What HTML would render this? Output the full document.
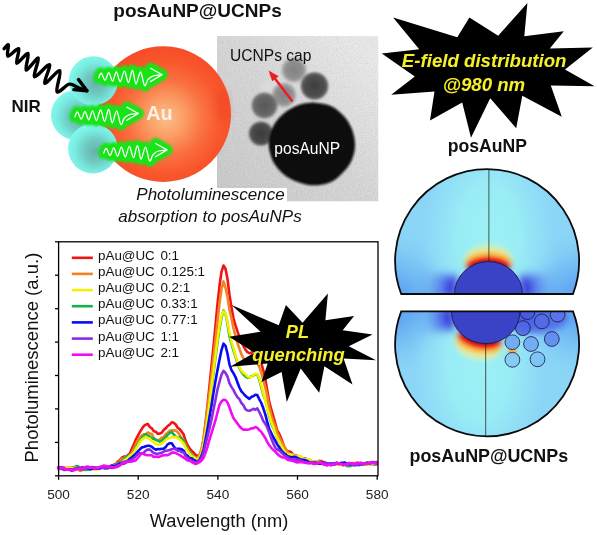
<!DOCTYPE html>
<html lang="en"><head><meta charset="utf-8"><title>posAuNP@UCNPs</title>
<style>
html,body{margin:0;padding:0;background:#fff;}
body{width:597px;height:535px;overflow:hidden;}
svg{display:block;}
svg text{font-family:"Liberation Sans", Arial, sans-serif;}
</style></head><body>
<svg width="597" height="535" viewBox="0 0 597 535">
<defs>
<filter id="noise" x="0" y="0" width="100%" height="100%">
<feTurbulence type="fractalNoise" baseFrequency="0.9" numOctaves="2" seed="3" result="n"/>
<feColorMatrix in="n" type="matrix" values="0 0 0 0 0  0 0 0 0 0  0 0 0 0 0  0.5 0.5 0 0 -0.32"/>
<feComposite in2="SourceGraphic" operator="in"/>
</filter>
<linearGradient id="temBg" x1="0" y1="1" x2="1" y2="0">
<stop offset="0" stop-color="#cecece"/><stop offset="0.5" stop-color="#dcdcdc"/><stop offset="0.9" stop-color="#eeeeee"/>
</linearGradient>
<radialGradient id="ucA" cx="0.5" cy="0.5" r="0.5"><stop offset="0" stop-color="#838383"/><stop offset="0.7" stop-color="#8e8e8e"/><stop offset="1" stop-color="#a8a8a8" stop-opacity="0.6"/></radialGradient>
<radialGradient id="ucB" cx="0.5" cy="0.5" r="0.5"><stop offset="0" stop-color="#3e3e3e"/><stop offset="0.75" stop-color="#4e4e4e"/><stop offset="1" stop-color="#707070"/></radialGradient>
<radialGradient id="ucD" cx="0.5" cy="0.5" r="0.5"><stop offset="0" stop-color="#585858"/><stop offset="0.75" stop-color="#666"/><stop offset="1" stop-color="#858585"/></radialGradient>
<radialGradient id="ucE" cx="0.5" cy="0.5" r="0.5"><stop offset="0" stop-color="#3c3c3c"/><stop offset="0.75" stop-color="#4a4a4a"/><stop offset="1" stop-color="#6c6c6c"/></radialGradient>
<filter id="b1" x="-20%" y="-20%" width="140%" height="140%"><feGaussianBlur stdDeviation="0.9"/></filter>
<filter id="b2" x="-20%" y="-20%" width="140%" height="140%"><feGaussianBlur stdDeviation="1.6"/></filter>
<clipPath id="temClip"><rect x="217" y="36" width="161.5" height="165.5"/></clipPath>

<radialGradient id="gAu" cx="166" cy="118" r="70" gradientUnits="userSpaceOnUse">
<stop offset="0" stop-color="#fcbe88"/><stop offset="0.25" stop-color="#fba068"/><stop offset="0.55" stop-color="#fa7040"/><stop offset="0.8" stop-color="#f9572c"/><stop offset="1" stop-color="#f64e2a"/>
</radialGradient>
<radialGradient id="gCy" cx="0.55" cy="0.55" r="0.55">
<stop offset="0" stop-color="#68b0a9"/><stop offset="0.4" stop-color="#6fcac1"/><stop offset="0.75" stop-color="#79ebe0"/><stop offset="1" stop-color="#80f8ec"/>
</radialGradient>
<filter id="b3" x="-80%" y="-40%" width="260%" height="180%"><feGaussianBlur stdDeviation="3.5"/></filter>
<filter id="glow" x="-20%" y="-60%" width="140%" height="220%"><feGaussianBlur stdDeviation="1.3"/></filter>

<filter id="fb" x="-30%" y="-30%" width="160%" height="160%"><feGaussianBlur stdDeviation="3"/></filter>
<filter id="fb1" x="-30%" y="-30%" width="160%" height="160%"><feGaussianBlur stdDeviation="1.2"/></filter>
<radialGradient id="lobe" cx="0.5" cy="0.5" r="0.5">
<stop offset="0" stop-color="#9cf1f4"/><stop offset="0.45" stop-color="#9aeef5" stop-opacity="0.92"/><stop offset="0.78" stop-color="#94e4f6" stop-opacity="0.45"/><stop offset="1" stop-color="#8ad4f6" stop-opacity="0"/>
</radialGradient>
<radialGradient id="side" cx="0.5" cy="0.5" r="0.5">
<stop offset="0" stop-color="#589cf0"/><stop offset="0.3" stop-color="#5fa6f2" stop-opacity="0.9"/><stop offset="0.65" stop-color="#70baf4" stop-opacity="0.5"/><stop offset="1" stop-color="#8ad4f6" stop-opacity="0"/>
</radialGradient>
<radialGradient id="dark" cx="0" cy="0" r="72" gradientUnits="userSpaceOnUse">
<stop offset="0.42" stop-color="#3836d4"/><stop offset="0.52" stop-color="#3b40dc" stop-opacity="0.98"/><stop offset="0.64" stop-color="#4562ea" stop-opacity="0.72"/><stop offset="0.8" stop-color="#5488ee" stop-opacity="0.32"/><stop offset="1" stop-color="#62a4f2" stop-opacity="0"/>
</radialGradient>
<radialGradient id="hot" cx="0" cy="0" r="60" gradientUnits="userSpaceOnUse">
<stop offset="0.5" stop-color="#9a0a0a"/><stop offset="0.55" stop-color="#c01418"/><stop offset="0.585" stop-color="#ea3620"/><stop offset="0.62" stop-color="#f67a2c"/><stop offset="0.665" stop-color="#f8b84a" stop-opacity="0.97"/><stop offset="0.73" stop-color="#f6e080" stop-opacity="0.88"/><stop offset="0.82" stop-color="#e0f4b0" stop-opacity="0.5"/><stop offset="0.92" stop-color="#c0f4dc" stop-opacity="0.18"/><stop offset="1" stop-color="#b0f2e8" stop-opacity="0"/>
</radialGradient>
<filter id="mb" x="-50%" y="-50%" width="200%" height="200%"><feGaussianBlur stdDeviation="4"/></filter>
<filter id="mb2" x="-50%" y="-50%" width="200%" height="200%"><feGaussianBlur stdDeviation="3"/></filter>
<mask id="poleM" maskUnits="userSpaceOnUse" x="-70" y="-70" width="140" height="140"><ellipse cx="0" cy="-34" rx="22" ry="18" fill="#fff" filter="url(#mb2)"/></mask>
<mask id="eqM" maskUnits="userSpaceOnUse" x="-90" y="-70" width="180" height="140"><polygon points="-30,-2 -30,-18 -80,-26 -80,4 -30,4" fill="#fff" filter="url(#mb)"/><polygon points="30,-2 30,-18 80,-26 80,4 30,4" fill="#fff" filter="url(#mb)"/></mask>

<clipPath id="dc1"><path d="M573.0 294.0A92.0 92.0 0 1 0 401.2 294.0Z"/></clipPath>
<clipPath id="dc2"><path d="M573.0 311.4A92.0 92.0 0 1 1 401.2 311.4Z"/></clipPath>
</defs>
<g clip-path="url(#temClip)">
<rect x="217" y="36" width="161.5" height="165.5" fill="url(#temBg)"/>
<rect x="217" y="36" width="161.5" height="165.5" fill="#8a8a8a" filter="url(#noise)" opacity="0.2"/>
<ellipse cx="272" cy="88" rx="12" ry="9" fill="#dcdcdc" opacity="0.8" filter="url(#b2)"/>
<ellipse cx="338" cy="100" rx="8" ry="6" fill="#dedede" opacity="0.4" filter="url(#b2)"/>
<g filter="url(#b1)">
<circle cx="284" cy="95" r="12.5" fill="url(#ucA)"/>
<circle cx="294" cy="70" r="12.8" fill="url(#ucA)"/>
<circle cx="314.5" cy="86" r="13.8" fill="url(#ucB)"/>
<circle cx="264.5" cy="105.5" r="13" fill="url(#ucD)"/>
<circle cx="261" cy="133.6" r="12.2" fill="url(#ucE)"/>
<path d="M312.7 102.5C314.6 102.8 320.5 103.2 324.0 104.0C327.5 104.8 330.2 105.2 333.8 107.6C337.4 109.9 342.4 114.2 345.5 118.1C348.6 122.0 351.0 126.3 352.6 131.0C354.2 135.7 355.2 141.4 355.0 146.3C354.8 151.2 353.5 156.1 351.6 160.4C349.7 164.7 346.6 168.6 343.4 172.1C340.2 175.6 336.9 179.1 332.6 181.3C328.3 183.5 322.3 184.8 317.4 185.2C312.5 185.6 308.4 185.2 303.3 183.8C298.2 182.4 291.6 179.9 286.9 176.8C282.2 173.7 278.1 169.3 275.2 165.0C272.3 160.7 270.5 155.7 269.5 151.0C268.5 146.3 268.4 141.6 269.3 136.9C270.2 132.2 272.3 127.1 275.2 122.8C278.1 118.5 282.8 114.1 286.9 111.1C291.0 108.0 295.5 105.9 299.8 104.5C304.1 103.1 310.6 102.8 312.7 102.5Z" fill="#0b0b0b"/>
</g>
<line x1="292.5" y1="101.5" x2="273" y2="76" stroke="#ee1c25" stroke-width="2.5"/>
<polygon points="268.6,70.6 278.6,76.2 272.2,81.2" fill="#ee1c25"/>
</g>
<text x="230" y="60.5" font-size="15.6" fill="#111">UCNPs cap</text>
<text x="274.3" y="153.8" font-size="15.6" fill="#fff">posAuNP</text>
<text x="197.5" y="17.3" font-size="19" font-weight="bold" text-anchor="middle" fill="#111">posAuNP@UCNPs</text>
<circle cx="163.2" cy="114.1" r="67.8" fill="url(#gAu)"/>
<ellipse cx="222" cy="106" rx="7" ry="16" fill="#e53c22" opacity="0.35" filter="url(#b3)"/>
<circle cx="75.8" cy="115" r="24.8" fill="url(#gCy)"/>
<circle cx="93.4" cy="80.8" r="24.6" fill="url(#gCy)"/>
<circle cx="92.9" cy="148.6" r="24.8" fill="url(#gCy)"/>
<g fill="none" stroke-linecap="round" stroke-linejoin="round">
<path d="M98.7 78.0C99.1 77.2 100.2 72.8 101.3 73.2C102.4 73.6 103.8 80.4 105.1 80.3C106.3 80.2 107.5 72.6 108.8 72.7C110.0 72.8 111.3 81.1 112.6 81.0C113.9 80.9 115.1 71.9 116.4 72.0C117.7 72.1 118.9 81.9 120.2 81.8C121.5 81.7 123.0 71.1 124.4 71.2C125.8 71.3 127.1 82.6 128.4 82.5C129.8 82.4 131.2 70.2 132.5 70.5C133.8 70.8 134.7 83.8 136.0 84.0C137.3 84.2 139.1 71.7 140.5 72.0C141.9 72.3 143.3 84.4 144.6 85.6C145.8 86.9 146.6 81.1 148.0 79.5C149.4 77.9 151.0 76.6 153.3 75.8C155.7 75.0 160.6 74.9 162.1 74.7 M150.6 68.3L162.1 74.7L150.4 81.6" stroke="#14e414" stroke-width="11.2" filter="url(#glow)"/>
<path d="M98.7 78.0C99.1 77.2 100.2 72.8 101.3 73.2C102.4 73.6 103.8 80.4 105.1 80.3C106.3 80.2 107.5 72.6 108.8 72.7C110.0 72.8 111.3 81.1 112.6 81.0C113.9 80.9 115.1 71.9 116.4 72.0C117.7 72.1 118.9 81.9 120.2 81.8C121.5 81.7 123.0 71.1 124.4 71.2C125.8 71.3 127.1 82.6 128.4 82.5C129.8 82.4 131.2 70.2 132.5 70.5C133.8 70.8 134.7 83.8 136.0 84.0C137.3 84.2 139.1 71.7 140.5 72.0C141.9 72.3 143.3 84.4 144.6 85.6C145.8 86.9 146.6 81.1 148.0 79.5C149.4 77.9 151.0 76.6 153.3 75.8C155.7 75.0 160.6 74.9 162.1 74.7 M150.6 68.3L162.1 74.7L150.4 81.6" stroke="#fff" stroke-width="1.3"/>
</g>
<g fill="none" stroke-linecap="round" stroke-linejoin="round">
<path d="M74.9 116.8C75.3 116.0 76.4 111.6 77.5 112.0C78.6 112.4 80.0 119.2 81.3 119.1C82.5 119.0 83.8 111.4 85.0 111.5C86.2 111.6 87.5 119.9 88.8 119.8C90.1 119.7 91.3 110.7 92.6 110.8C93.9 110.9 95.1 120.7 96.4 120.6C97.7 120.5 99.2 109.9 100.6 110.0C102.0 110.1 103.3 121.4 104.6 121.3C106.0 121.2 107.4 109.0 108.7 109.3C110.0 109.5 110.9 122.5 112.2 122.8C113.5 123.0 115.3 110.5 116.7 110.8C118.1 111.1 119.5 123.2 120.8 124.4C122.0 125.7 122.8 119.9 124.2 118.3C125.7 116.7 127.2 115.4 129.5 114.6C131.8 113.8 136.8 113.7 138.3 113.5 M126.8 107.1L138.3 113.5L126.6 120.4" stroke="#14e414" stroke-width="11.2" filter="url(#glow)"/>
<path d="M74.9 116.8C75.3 116.0 76.4 111.6 77.5 112.0C78.6 112.4 80.0 119.2 81.3 119.1C82.5 119.0 83.8 111.4 85.0 111.5C86.2 111.6 87.5 119.9 88.8 119.8C90.1 119.7 91.3 110.7 92.6 110.8C93.9 110.9 95.1 120.7 96.4 120.6C97.7 120.5 99.2 109.9 100.6 110.0C102.0 110.1 103.3 121.4 104.6 121.3C106.0 121.2 107.4 109.0 108.7 109.3C110.0 109.5 110.9 122.5 112.2 122.8C113.5 123.0 115.3 110.5 116.7 110.8C118.1 111.1 119.5 123.2 120.8 124.4C122.0 125.7 122.8 119.9 124.2 118.3C125.7 116.7 127.2 115.4 129.5 114.6C131.8 113.8 136.8 113.7 138.3 113.5 M126.8 107.1L138.3 113.5L126.6 120.4" stroke="#fff" stroke-width="1.3"/>
</g>
<g fill="none" stroke-linecap="round" stroke-linejoin="round">
<path d="M103.7 153.2C104.1 152.4 105.2 148.0 106.3 148.4C107.4 148.8 108.8 155.6 110.1 155.5C111.3 155.4 112.5 147.8 113.8 147.9C115.0 148.0 116.3 156.3 117.6 156.2C118.9 156.1 120.1 147.1 121.4 147.2C122.7 147.3 123.9 157.1 125.2 157.0C126.5 156.9 128.0 146.3 129.4 146.4C130.8 146.5 132.1 157.8 133.4 157.7C134.8 157.6 136.2 145.4 137.5 145.7C138.8 145.9 139.7 158.9 141.0 159.2C142.3 159.4 144.1 146.9 145.5 147.2C146.9 147.5 148.3 159.6 149.6 160.8C150.8 162.1 151.6 156.3 153.0 154.7C154.4 153.1 156.0 151.8 158.3 151.0C160.7 150.2 165.6 150.1 167.1 149.9 M155.6 143.5L167.1 149.9L155.4 156.8" stroke="#14e414" stroke-width="11.2" filter="url(#glow)"/>
<path d="M103.7 153.2C104.1 152.4 105.2 148.0 106.3 148.4C107.4 148.8 108.8 155.6 110.1 155.5C111.3 155.4 112.5 147.8 113.8 147.9C115.0 148.0 116.3 156.3 117.6 156.2C118.9 156.1 120.1 147.1 121.4 147.2C122.7 147.3 123.9 157.1 125.2 157.0C126.5 156.9 128.0 146.3 129.4 146.4C130.8 146.5 132.1 157.8 133.4 157.7C134.8 157.6 136.2 145.4 137.5 145.7C138.8 145.9 139.7 158.9 141.0 159.2C142.3 159.4 144.1 146.9 145.5 147.2C146.9 147.5 148.3 159.6 149.6 160.8C150.8 162.1 151.6 156.3 153.0 154.7C154.4 153.1 156.0 151.8 158.3 151.0C160.7 150.2 165.6 150.1 167.1 149.9 M155.6 143.5L167.1 149.9L155.4 156.8" stroke="#fff" stroke-width="1.3"/>
</g>
<g fill="none" stroke="#000" stroke-width="3.4" stroke-linecap="round" stroke-linejoin="round">
<path d="M4.1 48.7C4.8 48.1 7.8 43.8 8.4 45.0C9.0 46.2 6.2 55.6 7.9 56.2C9.6 56.8 17.2 47.5 18.7 48.7C20.2 49.9 15.2 62.5 16.8 63.3C18.4 64.1 26.4 52.2 28.0 53.4C29.6 54.5 24.5 69.4 26.2 70.2C27.9 71.0 36.9 56.9 38.3 58.0C39.7 59.1 32.7 75.6 34.6 76.7C36.5 77.8 47.8 63.5 49.5 64.6C51.2 65.7 43.2 82.3 44.9 83.3C46.6 84.3 57.8 69.3 59.8 70.7C61.8 72.1 55.4 89.5 57.0 91.7C58.6 94.0 65.7 84.9 69.2 84.2C72.7 83.5 75.0 86.4 78.0 87.5C81.0 88.6 85.4 90.2 86.9 90.7"/>
<path d="M78.5 79.5L86.9 90.7L73.8 89.6"/>
</g>
<text x="11.5" y="112.3" font-size="17" font-weight="bold" fill="#111">NIR</text>
<text x="146.3" y="120.3" font-size="19.8" font-weight="bold" fill="#fdf0e6">Au</text>
<rect x="130" y="188" width="157" height="16" fill="#fff"/>
<text x="210.5" y="200" font-size="17" font-style="italic" text-anchor="middle" fill="#111">Photoluminescence</text>
<text x="210" y="221.5" font-size="17" font-style="italic" text-anchor="middle" fill="#111">absorption to posAuNPs</text>
<g fill="none" stroke-width="2.6" stroke-linejoin="round" stroke-linecap="round">
<path d="M58.2 468.7L60.2 468.9L62.2 468.2L64.2 467.7L66.2 468.1L68.2 469.1L70.1 468.6L72.1 467.8L74.1 467.6L76.1 468.3L78.1 469.5L80.1 469.5L82.1 469.3L84.1 468.5L86.1 469.1L88.1 469.0L90.1 468.8L92.1 467.2L94.0 467.3L96.0 467.6L98.0 467.9L100.0 467.8L102.0 467.7L104.0 468.1L106.0 468.4L108.0 468.2L110.0 466.8L112.0 466.1L114.0 464.5L115.9 464.1L117.9 461.5L119.9 460.0L121.9 457.7L123.9 456.6L125.9 456.5L127.9 455.1L129.9 453.5L131.9 448.6L133.9 444.4L135.9 439.3L137.9 435.6L139.8 432.2L141.8 428.8L143.8 426.0L145.8 424.7L147.8 423.9L149.8 427.0L151.8 428.3L153.8 431.3L155.8 431.7L157.8 433.8L159.8 433.6L161.7 432.8L163.7 429.9L165.7 428.4L167.7 426.0L169.7 424.7L171.7 422.2L173.7 422.7L175.7 424.5L177.7 427.7L179.7 429.1L181.7 431.7L183.7 434.6L185.6 440.9L187.6 445.1L189.6 448.4L191.6 450.8L193.6 452.6L195.6 454.9L197.6 456.0L199.6 455.3L201.6 449.8L203.6 439.3L205.6 422.7L207.5 405.0L209.5 386.0L211.5 366.1L213.5 346.4L215.5 325.3L217.5 303.9L219.5 285.8L221.5 271.8L223.5 265.5L225.5 268.7L227.5 279.0L229.4 294.4L231.4 306.8L233.4 318.1L235.4 325.2L237.4 331.1L239.4 337.1L241.4 342.2L243.4 345.9L245.4 349.5L247.4 352.1L249.4 353.1L251.4 352.9L253.3 350.4L255.3 349.6L257.3 350.1L259.3 356.5L261.3 363.2L263.3 370.3L265.3 379.2L267.3 390.6L269.3 402.2L271.3 409.4L273.3 416.3L275.2 423.0L277.2 430.5L279.2 433.7L281.2 438.4L283.2 444.0L285.2 449.4L287.2 451.0L289.2 451.4L291.2 452.2L293.2 454.7L295.2 455.8L297.2 456.2L299.1 456.5L301.1 457.1L303.1 458.9L305.1 458.6L307.1 459.2L309.1 459.3L311.1 460.9L313.1 462.0L315.1 462.3L317.1 461.3L319.1 461.1L321.0 461.0L323.0 461.9L325.0 462.8L327.0 463.1L329.0 463.9L331.0 463.9L333.0 464.0L335.0 463.8L337.0 464.0L339.0 464.6L341.0 464.3L343.0 464.0L344.9 463.1L346.9 464.0L348.9 464.7L350.9 465.2L352.9 464.2L354.9 463.0L356.9 463.1L358.9 463.4L360.9 464.8L362.9 464.8L364.9 464.3L366.8 462.3L368.8 462.7L370.8 463.1L372.8 463.4L374.8 462.8L376.8 462.0" stroke="#f01414"/>
<path d="M58.2 468.2L60.2 468.0L62.2 468.6L64.2 468.0L66.2 468.4L68.2 467.4L70.1 467.9L72.1 467.7L74.1 468.0L76.1 468.6L78.1 469.1L80.1 471.0L82.1 470.2L84.1 469.7L86.1 468.3L88.1 468.8L90.1 468.9L92.1 469.0L94.0 468.5L96.0 468.0L98.0 467.8L100.0 467.3L102.0 467.1L104.0 467.3L106.0 467.7L108.0 468.1L110.0 467.0L112.0 465.4L114.0 464.9L115.9 464.4L117.9 463.2L119.9 461.2L121.9 458.9L123.9 458.1L125.9 456.8L127.9 456.3L129.9 454.8L131.9 452.8L133.9 448.6L135.9 444.2L137.9 440.3L139.8 437.7L141.8 435.5L143.8 434.4L145.8 434.4L147.8 432.5L149.8 433.4L151.8 433.9L153.8 438.4L155.8 440.0L157.8 440.2L159.8 439.5L161.7 437.6L163.7 437.3L165.7 434.1L167.7 432.7L169.7 430.8L171.7 430.4L173.7 430.4L175.7 430.6L177.7 432.3L179.7 435.0L181.7 438.2L183.7 440.3L185.6 444.6L187.6 448.5L189.6 451.8L191.6 454.0L193.6 456.3L195.6 457.9L197.6 457.8L199.6 454.4L201.6 448.6L203.6 438.4L205.6 423.8L207.5 407.6L209.5 392.9L211.5 375.6L213.5 357.5L215.5 339.2L217.5 321.1L219.5 303.4L221.5 289.0L223.5 281.4L225.5 287.7L227.5 296.6L229.4 309.8L231.4 317.8L233.4 328.0L235.4 335.4L237.4 343.0L239.4 348.7L241.4 354.2L243.4 358.2L245.4 361.0L247.4 363.3L249.4 363.1L251.4 361.1L253.3 360.0L255.3 361.3L257.3 362.5L259.3 367.1L261.3 372.5L263.3 379.8L265.3 387.4L267.3 396.3L269.3 407.0L271.3 415.1L273.3 421.4L275.2 426.1L277.2 432.5L279.2 437.0L281.2 441.3L283.2 444.5L285.2 447.8L287.2 451.2L289.2 453.7L291.2 454.9L293.2 454.9L295.2 455.3L297.2 455.6L299.1 457.5L301.1 457.7L303.1 458.3L305.1 458.7L307.1 459.7L309.1 461.1L311.1 461.1L313.1 461.8L315.1 461.4L317.1 461.2L319.1 461.1L321.0 462.5L323.0 463.7L325.0 464.7L327.0 464.3L329.0 464.5L331.0 464.8L333.0 464.4L335.0 464.1L337.0 464.1L339.0 464.1L341.0 463.7L343.0 463.1L344.9 463.1L346.9 463.9L348.9 463.6L350.9 463.4L352.9 462.9L354.9 463.9L356.9 464.3L358.9 464.5L360.9 463.7L362.9 463.8L364.9 464.1L366.8 464.7L368.8 463.8L370.8 463.9L372.8 463.3L374.8 463.8L376.8 464.2" stroke="#f58220"/>
<path d="M58.2 468.5L60.2 468.4L62.2 468.0L64.2 468.3L66.2 468.7L68.2 468.8L70.1 468.9L72.1 468.7L74.1 467.4L76.1 466.0L78.1 466.3L80.1 467.7L82.1 469.1L84.1 469.8L86.1 470.0L88.1 469.6L90.1 469.4L92.1 467.9L94.0 468.2L96.0 467.8L98.0 468.4L100.0 467.8L102.0 467.1L104.0 467.1L106.0 467.7L108.0 467.9L110.0 467.8L112.0 466.5L114.0 466.2L115.9 464.6L117.9 463.9L119.9 462.1L121.9 461.2L123.9 459.2L125.9 457.5L127.9 455.8L129.9 455.1L131.9 454.6L133.9 451.6L135.9 447.7L137.9 444.0L139.8 441.5L141.8 437.9L143.8 435.9L145.8 434.1L147.8 435.5L149.8 436.7L151.8 439.1L153.8 438.5L155.8 439.6L157.8 440.6L159.8 441.7L161.7 440.9L163.7 438.8L165.7 437.3L167.7 434.7L169.7 433.0L171.7 431.9L173.7 434.5L175.7 436.4L177.7 438.0L179.7 437.4L181.7 438.9L183.7 441.2L185.6 445.6L187.6 449.7L189.6 452.4L191.6 455.5L193.6 456.2L195.6 458.8L197.6 458.7L199.6 458.1L201.6 452.8L203.6 444.1L205.6 431.9L207.5 418.2L209.5 404.8L211.5 388.1L213.5 373.0L215.5 357.1L217.5 342.6L219.5 328.9L221.5 317.7L223.5 310.6L225.5 313.7L227.5 323.6L229.4 336.1L231.4 343.7L233.4 350.1L235.4 356.3L237.4 362.9L239.4 368.0L241.4 371.8L243.4 374.5L245.4 376.4L247.4 377.8L249.4 377.5L251.4 376.3L253.3 375.8L255.3 374.4L257.3 374.5L259.3 379.4L261.3 387.4L263.3 394.7L265.3 399.8L267.3 407.9L269.3 416.5L271.3 423.4L273.3 427.9L275.2 431.8L277.2 437.8L279.2 441.8L281.2 445.4L283.2 448.9L285.2 452.0L287.2 454.6L289.2 454.5L291.2 455.0L293.2 455.6L295.2 456.3L297.2 457.2L299.1 458.1L301.1 459.9L303.1 459.8L305.1 459.5L307.1 460.0L309.1 461.2L311.1 462.6L313.1 463.1L315.1 463.0L317.1 462.6L319.1 461.5L321.0 462.2L323.0 463.6L325.0 464.4L327.0 464.1L329.0 463.5L331.0 464.0L333.0 463.7L335.0 463.2L337.0 462.6L339.0 464.0L341.0 464.1L343.0 464.9L344.9 464.8L346.9 466.0L348.9 466.2L350.9 466.0L352.9 464.6L354.9 463.8L356.9 462.8L358.9 463.1L360.9 464.4L362.9 463.9L364.9 464.2L366.8 462.5L368.8 463.8L370.8 464.1L372.8 464.3L374.8 464.6L376.8 464.0" stroke="#14b04c"/>
<path d="M58.2 469.0L60.2 468.8L62.2 468.7L64.2 468.8L66.2 467.8L68.2 467.7L70.1 468.0L72.1 468.6L74.1 467.9L76.1 467.8L78.1 468.1L80.1 468.8L82.1 468.8L84.1 468.3L86.1 467.9L88.1 467.9L90.1 467.9L92.1 468.3L94.0 469.4L96.0 469.8L98.0 469.7L100.0 467.6L102.0 467.2L104.0 467.4L106.0 467.7L108.0 467.4L110.0 465.8L112.0 466.0L114.0 465.2L115.9 465.7L117.9 465.0L119.9 463.7L121.9 462.5L123.9 460.6L125.9 459.4L127.9 457.6L129.9 455.7L131.9 454.7L133.9 452.4L135.9 448.8L137.9 445.6L139.8 442.0L141.8 439.6L143.8 438.2L145.8 436.9L147.8 438.3L149.8 438.6L151.8 441.2L153.8 442.2L155.8 443.9L157.8 444.4L159.8 444.8L161.7 443.3L163.7 442.2L165.7 439.7L167.7 438.7L169.7 437.9L171.7 437.3L173.7 437.2L175.7 437.1L177.7 438.1L179.7 439.5L181.7 441.4L183.7 443.6L185.6 447.5L187.6 450.9L189.6 453.9L191.6 456.2L193.6 456.9L195.6 459.2L197.6 458.9L199.6 457.8L201.6 451.8L203.6 443.5L205.6 431.6L207.5 417.9L209.5 403.4L211.5 386.1L213.5 370.6L215.5 354.3L217.5 339.5L219.5 325.9L221.5 316.1L223.5 311.4L225.5 313.2L227.5 321.8L229.4 331.8L231.4 341.5L233.4 347.8L235.4 355.0L237.4 361.0L239.4 366.8L241.4 370.7L243.4 372.9L245.4 374.0L247.4 376.5L249.4 377.2L251.4 377.1L253.3 375.1L255.3 373.8L257.3 374.3L259.3 378.0L261.3 385.6L263.3 392.9L265.3 400.5L267.3 408.7L269.3 415.2L271.3 422.1L273.3 427.0L275.2 432.9L277.2 437.8L279.2 441.6L281.2 445.5L283.2 449.0L285.2 452.1L287.2 454.1L289.2 454.5L291.2 454.4L293.2 455.3L295.2 456.5L297.2 456.7L299.1 456.0L301.1 456.9L303.1 458.8L305.1 459.8L307.1 459.2L309.1 459.3L311.1 460.1L313.1 461.4L315.1 461.4L317.1 461.6L319.1 462.2L321.0 463.0L323.0 463.8L325.0 463.6L327.0 463.8L329.0 463.8L331.0 464.4L333.0 463.6L335.0 464.0L337.0 464.1L339.0 465.1L341.0 464.9L343.0 464.7L344.9 463.9L346.9 464.3L348.9 464.4L350.9 465.1L352.9 464.5L354.9 463.6L356.9 463.0L358.9 463.1L360.9 463.2L362.9 463.5L364.9 463.9L366.8 464.4L368.8 464.5L370.8 464.3L372.8 463.6L374.8 462.9L376.8 462.5" stroke="#f4f000"/>
<path d="M58.2 467.5L60.2 467.5L62.2 467.5L64.2 469.4L66.2 469.3L68.2 469.6L70.1 469.7L72.1 470.8L74.1 469.1L76.1 468.6L78.1 467.8L80.1 469.2L82.1 468.7L84.1 468.3L86.1 467.7L88.1 468.4L90.1 469.0L92.1 469.0L94.0 468.5L96.0 468.4L98.0 468.7L100.0 468.5L102.0 467.8L104.0 467.2L106.0 466.9L108.0 466.8L110.0 466.3L112.0 465.6L114.0 465.8L115.9 465.4L117.9 464.6L119.9 463.2L121.9 463.4L123.9 463.6L125.9 462.6L127.9 460.6L129.9 458.8L131.9 457.3L133.9 455.5L135.9 453.6L137.9 451.4L139.8 449.4L141.8 447.5L143.8 446.9L145.8 446.2L147.8 445.8L149.8 445.8L151.8 446.8L153.8 448.5L155.8 449.7L157.8 449.0L159.8 449.3L161.7 448.7L163.7 448.8L165.7 447.0L167.7 444.3L169.7 443.2L171.7 443.3L173.7 446.3L175.7 449.1L177.7 448.9L179.7 448.7L181.7 449.3L183.7 450.7L185.6 454.4L187.6 455.8L189.6 458.2L191.6 458.2L193.6 459.9L195.6 460.8L197.6 461.8L199.6 459.7L201.6 455.7L203.6 449.3L205.6 439.3L207.5 428.9L209.5 416.9L211.5 405.5L213.5 392.6L215.5 380.9L217.5 370.0L219.5 359.7L221.5 350.1L223.5 343.7L225.5 345.8L227.5 353.8L229.4 364.1L231.4 370.0L233.4 373.1L235.4 376.8L237.4 382.3L239.4 387.5L241.4 391.3L243.4 393.5L245.4 395.8L247.4 397.4L249.4 398.9L251.4 396.8L253.3 396.2L255.3 394.7L257.3 395.1L259.3 399.3L261.3 403.0L263.3 408.3L265.3 414.4L267.3 422.1L269.3 429.0L271.3 433.0L273.3 437.2L275.2 440.7L277.2 444.4L279.2 447.2L281.2 450.4L283.2 452.7L285.2 454.0L287.2 456.0L289.2 456.7L291.2 457.4L293.2 456.9L295.2 457.1L297.2 457.7L299.1 459.0L301.1 459.8L303.1 459.7L305.1 460.2L307.1 460.9L309.1 462.4L311.1 462.4L313.1 462.3L315.1 462.3L317.1 463.4L319.1 463.8L321.0 463.8L323.0 462.9L325.0 462.9L327.0 463.5L329.0 464.4L331.0 465.1L333.0 464.0L335.0 464.1L337.0 463.2L339.0 464.2L341.0 462.8L343.0 463.1L344.9 462.5L346.9 464.0L348.9 464.1L350.9 465.0L352.9 464.2L354.9 465.0L356.9 464.2L358.9 465.2L360.9 464.1L362.9 463.8L364.9 463.3L366.8 463.3L368.8 463.7L370.8 462.7L372.8 462.6L374.8 462.7L376.8 462.9" stroke="#0a0af5"/>
<path d="M58.2 467.4L60.2 468.5L62.2 469.0L64.2 470.0L66.2 469.8L68.2 469.7L70.1 469.3L72.1 469.4L74.1 469.0L76.1 469.2L78.1 468.4L80.1 467.9L82.1 467.1L84.1 467.8L86.1 468.3L88.1 468.4L90.1 467.6L92.1 467.1L94.0 467.7L96.0 468.1L98.0 468.2L100.0 467.4L102.0 467.4L104.0 468.1L106.0 468.1L108.0 467.8L110.0 467.7L112.0 468.1L114.0 467.4L115.9 466.7L117.9 465.1L119.9 465.0L121.9 462.6L123.9 461.9L125.9 461.3L127.9 461.5L129.9 460.8L131.9 459.4L133.9 458.0L135.9 456.1L137.9 454.0L139.8 453.3L141.8 453.1L143.8 452.7L145.8 450.6L147.8 449.5L149.8 449.6L151.8 451.2L153.8 453.1L155.8 453.6L157.8 453.9L159.8 453.1L161.7 452.9L163.7 451.5L165.7 450.8L167.7 450.5L169.7 450.0L171.7 449.2L173.7 448.7L175.7 448.9L177.7 450.7L179.7 450.7L181.7 452.2L183.7 452.3L185.6 456.1L187.6 457.8L189.6 459.3L191.6 460.6L193.6 461.7L195.6 462.6L197.6 461.7L199.6 460.8L201.6 457.6L203.6 452.3L205.6 444.1L207.5 436.5L209.5 428.4L211.5 419.8L213.5 409.5L215.5 399.8L217.5 389.4L219.5 381.8L221.5 374.6L223.5 370.8L225.5 372.8L227.5 376.7L229.4 383.0L231.4 386.9L233.4 389.9L235.4 393.9L237.4 397.1L239.4 399.1L241.4 403.0L243.4 405.1L245.4 409.1L247.4 410.5L249.4 410.8L251.4 410.0L253.3 408.8L255.3 409.7L257.3 408.3L259.3 412.0L261.3 416.2L263.3 420.9L265.3 423.8L267.3 427.5L269.3 432.7L271.3 438.6L273.3 443.4L275.2 447.6L277.2 449.5L279.2 450.6L281.2 452.3L283.2 454.3L285.2 456.0L287.2 457.0L289.2 458.4L291.2 459.2L293.2 459.8L295.2 459.5L297.2 459.7L299.1 459.8L301.1 460.9L303.1 461.6L305.1 462.8L307.1 462.5L309.1 463.1L311.1 462.1L313.1 462.3L315.1 462.0L317.1 462.6L319.1 462.9L321.0 462.6L323.0 463.0L325.0 462.9L327.0 463.4L329.0 463.4L331.0 463.3L333.0 463.2L335.0 463.4L337.0 463.2L339.0 463.5L341.0 464.0L343.0 464.4L344.9 464.6L346.9 464.3L348.9 464.0L350.9 464.3L352.9 465.1L354.9 465.0L356.9 465.3L358.9 463.9L360.9 464.9L362.9 463.1L364.9 463.9L366.8 463.3L368.8 463.5L370.8 462.6L372.8 462.0L374.8 462.2L376.8 462.7" stroke="#8a2be8"/>
<path d="M58.2 468.1L60.2 467.9L62.2 467.8L64.2 468.2L66.2 469.4L68.2 469.0L70.1 470.2L72.1 470.4L74.1 470.3L76.1 469.1L78.1 468.5L80.1 468.8L82.1 469.2L84.1 467.6L86.1 466.8L88.1 466.6L90.1 467.8L92.1 467.7L94.0 468.4L96.0 467.8L98.0 468.1L100.0 466.7L102.0 466.2L104.0 465.6L106.0 466.0L108.0 466.5L110.0 466.5L112.0 466.9L114.0 467.3L115.9 467.3L117.9 466.6L119.9 465.3L121.9 464.2L123.9 462.9L125.9 462.4L127.9 461.8L129.9 461.7L131.9 461.4L133.9 460.9L135.9 460.2L137.9 458.0L139.8 455.5L141.8 453.3L143.8 454.0L145.8 455.0L147.8 455.3L149.8 455.3L151.8 455.3L153.8 457.0L155.8 456.6L157.8 456.9L159.8 456.6L161.7 455.8L163.7 455.2L165.7 455.0L167.7 455.1L169.7 454.1L171.7 452.6L173.7 452.5L175.7 453.1L177.7 454.0L179.7 455.2L181.7 456.4L183.7 457.7L185.6 459.0L187.6 460.4L189.6 460.6L191.6 461.8L193.6 463.1L195.6 464.0L197.6 463.2L199.6 462.2L201.6 460.4L203.6 457.8L205.6 452.6L207.5 446.8L209.5 439.5L211.5 433.2L213.5 426.7L215.5 420.2L217.5 412.2L219.5 404.8L221.5 401.5L223.5 399.8L225.5 400.0L227.5 402.5L229.4 407.0L231.4 413.1L233.4 418.0L235.4 420.8L237.4 423.6L239.4 426.3L241.4 428.2L243.4 429.8L245.4 429.6L247.4 429.8L249.4 429.3L251.4 428.4L253.3 428.3L255.3 427.0L257.3 427.9L259.3 430.1L261.3 431.9L263.3 435.1L265.3 437.9L267.3 442.1L269.3 445.3L271.3 447.8L273.3 450.0L275.2 451.4L277.2 453.8L279.2 455.7L281.2 456.9L283.2 457.5L285.2 457.8L287.2 459.6L289.2 460.2L291.2 460.5L293.2 461.1L295.2 461.7L297.2 462.5L299.1 462.1L301.1 462.1L303.1 462.3L305.1 462.8L307.1 463.3L309.1 463.3L311.1 463.1L313.1 463.9L315.1 464.0L317.1 463.5L319.1 462.8L321.0 462.6L323.0 464.4L325.0 464.7L327.0 465.5L329.0 464.6L331.0 465.2L333.0 464.5L335.0 464.4L337.0 462.8L339.0 463.7L341.0 463.7L343.0 465.2L344.9 464.5L346.9 464.1L348.9 462.9L350.9 463.4L352.9 463.4L354.9 463.8L356.9 463.1L358.9 463.1L360.9 462.7L362.9 463.7L364.9 463.5L366.8 463.9L368.8 463.5L370.8 463.6L372.8 462.8L374.8 463.0L376.8 464.1" stroke="#f20cf2"/>
</g>
<g stroke="#000" stroke-width="1.3" fill="none">
<rect x="58.6" y="241.8" width="319.4" height="234.0"/>
<line x1="58.6" y1="475.8" x2="58.6" y2="479.8"/>
<line x1="138.2" y1="475.8" x2="138.2" y2="479.8"/>
<line x1="217.9" y1="475.8" x2="217.9" y2="479.8"/>
<line x1="297.5" y1="475.8" x2="297.5" y2="479.8"/>
<line x1="377.2" y1="475.8" x2="377.2" y2="479.8"/>
<line x1="55.0" y1="475.8" x2="58.6" y2="475.8"/>
<line x1="55.0" y1="442.4" x2="58.6" y2="442.4"/>
<line x1="55.0" y1="408.9" x2="58.6" y2="408.9"/>
<line x1="55.0" y1="375.5" x2="58.6" y2="375.5"/>
<line x1="55.0" y1="342.1" x2="58.6" y2="342.1"/>
<line x1="55.0" y1="308.7" x2="58.6" y2="308.7"/>
<line x1="55.0" y1="275.2" x2="58.6" y2="275.2"/>
<line x1="55.0" y1="241.8" x2="58.6" y2="241.8"/>
</g>
<text x="58.6" y="499.4" font-size="13.6" text-anchor="middle" fill="#222">500</text>
<text x="138.2" y="499.4" font-size="13.6" text-anchor="middle" fill="#222">520</text>
<text x="217.9" y="499.4" font-size="13.6" text-anchor="middle" fill="#222">540</text>
<text x="297.5" y="499.4" font-size="13.6" text-anchor="middle" fill="#222">560</text>
<text x="377.2" y="499.4" font-size="13.6" text-anchor="middle" fill="#222">580</text>
<text x="219" y="526.9" font-size="18.3" text-anchor="middle" fill="#111">Wavelength (nm)</text>
<text transform="translate(38.3,357.6) rotate(-90)" font-size="18.5" text-anchor="middle" fill="#111">Photoluminescence (a.u.)</text>
<line x1="71.8" y1="257.8" x2="92.8" y2="257.8" stroke="#f01414" stroke-width="2.6"/>
<text x="98" y="259.8" font-size="13.4" fill="#111" xml:space="preserve">pAu@UC <tspan dx="1.9">0:1</tspan></text>
<line x1="71.8" y1="273.9" x2="92.8" y2="273.9" stroke="#f58220" stroke-width="2.6"/>
<text x="98" y="275.9" font-size="13.4" fill="#111" xml:space="preserve">pAu@UC <tspan dx="1.9">0.125:1</tspan></text>
<line x1="71.8" y1="290.1" x2="92.8" y2="290.1" stroke="#f4f000" stroke-width="2.6"/>
<text x="98" y="292.1" font-size="13.4" fill="#111" xml:space="preserve">pAu@UC <tspan dx="1.9">0.2:1</tspan></text>
<line x1="71.8" y1="306.2" x2="92.8" y2="306.2" stroke="#14b04c" stroke-width="2.6"/>
<text x="98" y="308.2" font-size="13.4" fill="#111" xml:space="preserve">pAu@UC <tspan dx="1.9">0.33:1</tspan></text>
<line x1="71.8" y1="322.4" x2="92.8" y2="322.4" stroke="#0a0af5" stroke-width="2.6"/>
<text x="98" y="324.4" font-size="13.4" fill="#111" xml:space="preserve">pAu@UC <tspan dx="1.9">0.77:1</tspan></text>
<line x1="71.8" y1="338.6" x2="92.8" y2="338.6" stroke="#8a2be8" stroke-width="2.6"/>
<text x="98" y="340.6" font-size="13.4" fill="#111" xml:space="preserve">pAu@UC <tspan dx="1.9">1:1</tspan></text>
<line x1="71.8" y1="354.7" x2="92.8" y2="354.7" stroke="#f20cf2" stroke-width="2.6"/>
<text x="98" y="356.7" font-size="13.4" fill="#111" xml:space="preserve">pAu@UC <tspan dx="1.9">2:1</tspan></text>
<polygon points="302.6,322.7 327.9,293.6 325.4,320.3 354.1,316.0 342.7,330.3 372.6,334.4 348.8,346.2 376.0,360.3 343.6,358.5 352.5,384.4 324.4,366.2 319.2,392.7 300.7,368.6 286.8,402.0 281.6,372.0 261.5,382.0 267.6,363.5 230.0,366.8 254.4,352.7 229.1,336.8 260.6,331.8 231.6,305.1 278.8,325.3 285.9,305.1" fill="#000"/>
<g font-size="18.3" font-weight="bold" font-style="italic" fill="#f5f02a" text-anchor="middle" stroke="#1a1a00" stroke-width="0.4" paint-order="stroke">
<text x="297.5" y="337.8">PL</text>
<text x="298.5" y="361.2">quenching</text>
</g>
<polygon points="498.2,35.8 527.4,3.0 524.3,36.2 563.8,31.2 549.8,48.6 592.8,47.6 565.0,69.5 594.6,86.2 550.8,85.4 561.8,116.8 522.3,95.8 516.2,128.2 490.2,98.2 471.0,137.7 462.2,102.4 430.0,120.5 434.5,91.5 391.2,94.8 414.8,76.5 381.8,53.5 419.2,49.2 393.1,17.5 457.3,37.2 469.4,17.6" fill="#000"/>
<g font-size="18.65" font-weight="bold" font-style="italic" fill="#f6f126" text-anchor="middle" stroke="#1a1a00" stroke-width="0.4" paint-order="stroke">
<text x="484.2" y="66.9">E-field distribution</text>
<text x="484" y="90.6">@980 nm</text>
</g>
<text x="487.3" y="152" font-size="17.6" font-weight="bold" text-anchor="middle" fill="#111">posAuNP</text>
<text x="488.8" y="461.9" font-size="17.9" font-weight="bold" text-anchor="middle" fill="#111">posAuNP@UCNPs</text>
<g clip-path="url(#dc1)">
<rect x="388.5" y="159.0" width="200" height="140" fill="#8bd5f7"/>
<ellipse cx="387.1" cy="302.0" rx="85" ry="75" fill="url(#side)"/>
<ellipse cx="587.1" cy="302.0" rx="85" ry="75" fill="url(#side)"/>
<ellipse cx="488.5" cy="239.0" rx="72" ry="120" fill="url(#lobe)"/>
<g transform="translate(488.5 294.0) scale(1.05 1)"><circle r="74" fill="url(#dark)" mask="url(#eqM)"/></g>
<g transform="translate(488.5 294.0) scale(1.05 1)"><circle r="62" fill="url(#hot)" mask="url(#poleM)"/></g>
<path d="M454.5 294.0A34 32.4 0 0 1 522.5 294.0Z" fill="#3a42c6" stroke="#15154a" stroke-width="0.8"/>
<line x1="488.9" y1="168" x2="488.9" y2="261.6" stroke="#222" stroke-width="0.75"/>
</g>
<path d="M573.0 294.0A92.0 92.0 0 1 0 401.2 294.0Z" fill="none" stroke="#0a0a0a" stroke-width="1.8"/>
<g clip-path="url(#dc2)">
<rect x="385.7" y="306.4" width="200" height="140" fill="#8bd5f7"/>
<ellipse cx="387.1" cy="303.4" rx="85" ry="75" fill="url(#side)"/>
<ellipse cx="587.1" cy="303.4" rx="85" ry="75" fill="url(#side)"/>
<ellipse cx="479.7" cy="366.4" rx="72" ry="120" fill="url(#lobe)"/>
<g transform="translate(485.7 311.4) scale(1.05 -1)"><circle r="74" fill="url(#dark)" mask="url(#eqM)"/></g>
<ellipse cx="538" cy="318" rx="30" ry="15" fill="#4a5ee6" opacity="0.75" filter="url(#fb)"/>
<g transform="translate(485.7 311.4) scale(1.05 -1) rotate(-12)"><circle r="62" fill="url(#hot)" mask="url(#poleM)"/></g>
<ellipse cx="512.4" cy="351.3" rx="4.5" ry="3.2" fill="#f6b050" filter="url(#fb1)"/>
<circle cx="527.4" cy="312.1" r="7.4" fill="#4c58de" fill-opacity="0.85" stroke="#161640" stroke-width="0.8"/>
<circle cx="541.8" cy="321.4" r="7.4" fill="#5668e6" fill-opacity="0.85" stroke="#161640" stroke-width="0.8"/>
<circle cx="557.6" cy="314.6" r="7.4" fill="#5a74ea" fill-opacity="0.85" stroke="#161640" stroke-width="0.8"/>
<circle cx="522.9" cy="328.2" r="7.4" fill="#5166e4" fill-opacity="0.85" stroke="#161640" stroke-width="0.8"/>
<circle cx="512.4" cy="342.2" r="7.4" fill="#6aa2f2" fill-opacity="0.85" stroke="#161640" stroke-width="0.8"/>
<circle cx="531.0" cy="344.0" r="7.4" fill="#6ca6f3" fill-opacity="0.85" stroke="#161640" stroke-width="0.8"/>
<circle cx="551.8" cy="339.0" r="7.4" fill="#5f86ee" fill-opacity="0.85" stroke="#161640" stroke-width="0.8"/>
<circle cx="512.4" cy="359.8" r="7.4" fill="#82c6f6" fill-opacity="0.85" stroke="#161640" stroke-width="0.8"/>
<circle cx="537.5" cy="359.3" r="7.4" fill="#7cc0f6" fill-opacity="0.85" stroke="#161640" stroke-width="0.8"/>
<path d="M451.4 311.4A34.3 32.2 0 0 0 520.0 311.4Z" fill="#3a42c6" stroke="#15154a" stroke-width="0.8"/>
<line x1="485.7" y1="343.6" x2="485.7" y2="437" stroke="#222" stroke-width="0.75"/>
</g>
<path d="M573.0 311.4A92.0 92.0 0 1 1 401.2 311.4Z" fill="none" stroke="#0a0a0a" stroke-width="1.8"/>
</svg>
</body></html>
